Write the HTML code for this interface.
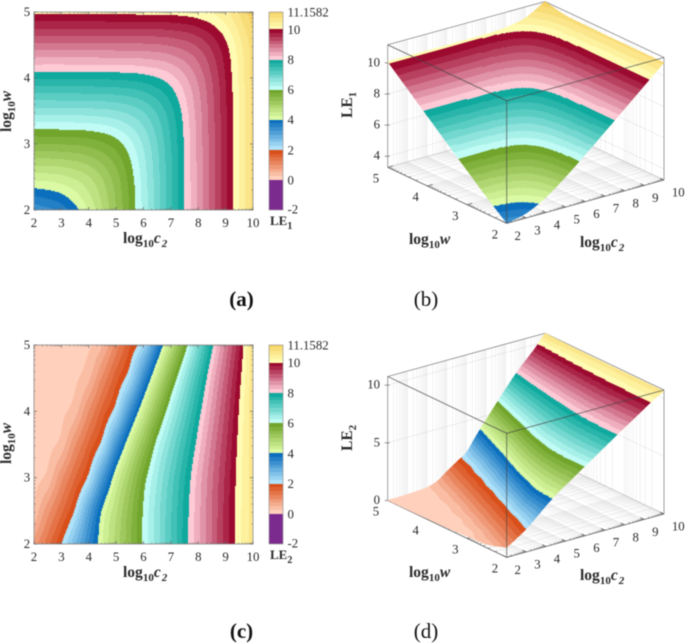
<!DOCTYPE html>
<html lang="en">
<head>
<meta charset="utf-8">
<title>LE1 and LE2 contour and surface plots</title>
<style>
html,body{margin:0;padding:0;background:#fff;width:685px;height:644px;overflow:hidden}
svg{display:block;filter:blur(.5px)}
text{font-family:"Liberation Serif",serif;fill:#2a2a2a}
.tick{font-size:12.8px}
.lab{font-size:15.5px;font-weight:bold}
.pan{font-size:21px;fill:#111}
</style>
</head>
<body>
<svg xmlns="http://www.w3.org/2000/svg" width="685" height="644" viewBox="0 0 685 644">
<rect width="685" height="644" fill="#fff"/>
<g id="panelA"></g>
<g id="panelB"></g>
<g id="panelC"></g>
<g id="panelD"></g>

<text class="lab" transform="translate(11,132) rotate(-90)">log<tspan dy="4" font-size="11">10</tspan><tspan dy="-4" font-style="italic">w</tspan></text>
<text class="lab" x="123" y="243">log<tspan dy="4" font-size="11">10</tspan><tspan dy="-4" font-style="italic">c</tspan><tspan dy="4" dx="1" font-size="11" font-style="italic">2</tspan></text>
<text x="270" y="225" font-size="13" font-weight="bold">LE<tspan dy="4" font-size="10">1</tspan></text>
<text class="pan" x="241.5" y="306" text-anchor="middle" font-weight="bold">(a)</text>

<text class="lab" transform="translate(352,118) rotate(-90)">LE<tspan dy="4" font-size="11">1</tspan></text>
<text class="lab" x="409" y="244">log<tspan dy="4" font-size="11">10</tspan><tspan dy="-4" font-style="italic">w</tspan></text>
<text class="lab" x="580" y="247">log<tspan dy="4" font-size="11">10</tspan><tspan dy="-4" font-style="italic">c</tspan><tspan dy="4" dx="1" font-size="11" font-style="italic">2</tspan></text>
<text class="pan" x="426" y="306" text-anchor="middle">(b)</text>

<text class="lab" transform="translate(11,464) rotate(-90)">log<tspan dy="4" font-size="11">10</tspan><tspan dy="-4" font-style="italic">w</tspan></text>
<text class="lab" x="123" y="577">log<tspan dy="4" font-size="11">10</tspan><tspan dy="-4" font-style="italic">c</tspan><tspan dy="4" dx="1" font-size="11" font-style="italic">2</tspan></text>
<text x="270" y="559" font-size="13" font-weight="bold">LE<tspan dy="4" font-size="10">2</tspan></text>
<text class="pan" x="241.5" y="638" text-anchor="middle" font-weight="bold">(c)</text>

<text class="lab" transform="translate(352,451) rotate(-90)">LE<tspan dy="4" font-size="11">2</tspan></text>
<text class="lab" x="409" y="577">log<tspan dy="4" font-size="11">10</tspan><tspan dy="-4" font-style="italic">w</tspan></text>
<text class="lab" x="580" y="580">log<tspan dy="4" font-size="11">10</tspan><tspan dy="-4" font-style="italic">c</tspan><tspan dy="4" dx="1" font-size="11" font-style="italic">2</tspan></text>
<text class="pan" x="426" y="638" text-anchor="middle">(d)</text>
</svg>

<script>
/* ---------- chart data ---------- */
const c2TickValues = [2, 3, 4, 5, 6, 7, 8, 9, 10];
const wTickValues = [2, 3, 4, 5];
const colorbarTickValues = [-2, 0, 2, 4, 6, 8, 10, 11.1582];
const colorbarTickLabels = ['-2', '0', '2', '4', '6', '8', '10', '11.1582'];
const le1ZTicks = [4, 6, 8, 10];
const le2ZTicks = [0, 5, 10];

const wSamples = [2, 2.5, 3, 3.5, 4, 4.5, 5];
const le1C2Samples = [2, 3, 4, 5, 6, 7, 8, 9, 10];
const le2C2Samples = [2, 2.5, 3, 3.5, 4, 4.5, 5, 5.5, 6, 6.5, 7, 7.5, 8, 8.5, 9, 9.5, 10];

const le1AtW20 = [3.30, 3.60, 4.27, 5.24, 6.32, 7.44, 8.57, 9.70, 10.83];
const le1AtW25 = [4.36, 4.44, 4.74, 5.40, 6.37, 7.45, 8.57, 9.70, 10.83];
const le1AtW30 = [5.49, 5.51, 5.59, 5.88, 6.54, 7.50, 8.58, 9.70, 10.83];
const le1AtW35 = [6.63, 6.64, 6.66, 6.74, 7.02, 7.67, 8.63, 9.71, 10.83];
const le1AtW40 = [7.78, 7.78, 7.79, 7.81, 7.89, 8.16, 8.81, 9.76, 10.85];
const le1AtW45 = [8.93, 8.93, 8.93, 8.94, 8.95, 9.03, 9.30, 9.94, 10.89];
const le1AtW50 = [10.08, 10.08, 10.08, 10.08, 10.09, 10.10, 10.18, 10.45, 11.16];

const le2AtW20 = [0.85, 1.40, 2.00, 2.75, 3.53, 4.25, 4.85, 5.45, 6.06, 6.65, 7.25, 7.85, 8.44, 9.02, 9.61, 10.18, 10.65];
const le2AtW25 = [0.30, 0.89, 1.44, 2.05, 3.05, 4.05, 4.70, 5.37, 6.03, 6.63, 7.22, 7.82, 8.41, 9.00, 9.60, 10.17, 10.65];
const le2AtW30 = [0.17, 0.33, 0.93, 1.50, 2.10, 3.20, 4.25, 5.05, 5.85, 6.48, 7.10, 7.72, 8.34, 8.95, 9.55, 10.15, 10.65];
const le2AtW35 = [0.09, 0.18, 0.35, 0.96, 1.55, 2.15, 3.30, 4.35, 5.25, 6.13, 6.80, 7.47, 8.13, 8.80, 9.45, 10.10, 10.65];
const le2AtW40 = [0.06, 0.09, 0.19, 0.40, 1.00, 1.60, 2.20, 3.33, 4.40, 5.40, 6.30, 7.08, 7.85, 8.58, 9.30, 10.03, 10.67];
const le2AtW45 = [0.03, 0.06, 0.10, 0.20, 0.45, 1.05, 1.65, 2.25, 3.40, 4.52, 5.58, 6.55, 7.45, 8.32, 9.10, 9.90, 10.70];
const le2AtW50 = [0.02, 0.03, 0.06, 0.11, 0.20, 0.48, 1.10, 1.70, 2.30, 3.50, 4.64, 5.77, 6.85, 7.91, 8.82, 9.70, 10.75];

const le1Rows = [le1AtW20, le1AtW25, le1AtW30, le1AtW35, le1AtW40, le1AtW45, le1AtW50];
const le2Rows = [le2AtW20, le2AtW25, le2AtW30, le2AtW35, le2AtW40, le2AtW45, le2AtW50];

/* ---------- colour map ---------- */
const ramp0 = ['#FFD0BC', '#D94F1A'];
const ramp2 = ['#B0E2FA', '#0B6FBD'];
const ramp4 = ['#DCFAA4', '#72A52C'];
const ramp6 = ['#C0FCF5', '#10A99E'];
const ramp8 = ['#FDCAD6', '#9C0A30'];
const ramp10 = ['#FFFBB2', '#F6D163'];
const ramps = [ramp0, ramp2, ramp4, ramp6, ramp8, ramp10];
const NEG_COLOR = '#7B2A8E';
const BAND_STEP = 0.25;

function hexRgb(h) { return [1, 3, 5].map(i => parseInt(h.substr(i, 2), 16)); }
function mixColor(a, b, t) {
  const p = hexRgb(a), q = hexRgb(b);
  return 'rgb(' + p.map((v, i) => Math.round(v + (q[i] - v) * t)).join(',') + ')';
}
function bandIndex(z) { return z < 0 ? -1 : Math.min(44, Math.floor(z / BAND_STEP)); }
function bandColor(i) {
  if (i < 0) return NEG_COLOR;
  if (i >= 40) return mixColor(ramp10[0], ramp10[1], (i - 40) / 4);
  const sec = Math.floor(i / 8);
  return mixColor(ramps[sec][0], ramps[sec][1], (i % 8) / 7);
}

/* ---------- interpolation of the read values ---------- */
function cell(rows, i, j) {
  const nj = rows.length, ni = rows[0].length;
  if (j < 0) return 2 * cell(rows, i, 0) - cell(rows, i, 1);
  if (j >= nj) return 2 * cell(rows, i, nj - 1) - cell(rows, i, nj - 2);
  if (i < 0) return 2 * rows[j][0] - rows[j][1];
  if (i >= ni) return 2 * rows[j][ni - 1] - rows[j][ni - 2];
  return rows[j][i];
}
function crom(a, b, c, d, t) {
  return 0.5 * (2 * b + (c - a) * t + (2 * a - 5 * b + 4 * c - d) * t * t + (3 * b - a - 3 * c + d) * t * t * t);
}
function sampleZ(rows, c2s, c2, w) {
  const u = (c2 - c2s[0]) / (c2s[1] - c2s[0]);
  const v = (w - wSamples[0]) / (wSamples[1] - wSamples[0]);
  const iu = Math.min(Math.floor(u), c2s.length - 2), iv = Math.min(Math.floor(v), wSamples.length - 2);
  const tu = u - iu, tv = v - iv, col = [];
  for (let k = -1; k <= 2; k++) {
    col.push(crom(cell(rows, iu - 1, iv + k), cell(rows, iu, iv + k), cell(rows, iu + 1, iv + k), cell(rows, iu + 2, iv + k), tu));
  }
  return crom(col[0], col[1], col[2], col[3], tv);
}

function minorPositions(lo, hi) {
  const out = [];
  for (let d = lo; d < hi; d++) for (let k = 2; k <= 9; k++) out.push(d + Math.log10(k));
  return out;
}

const SVGNS = 'http://www.w3.org/2000/svg';
function drawLine(parent, x1, y1, x2, y2, stroke, width, name) {
  const el = document.createElementNS(SVGNS, 'line');
  el.setAttribute('x1', x1.toFixed(2));
  el.setAttribute('y1', y1.toFixed(2));
  el.setAttribute('x2', x2.toFixed(2));
  el.setAttribute('y2', y2.toFixed(2));
  el.setAttribute('stroke', stroke);
  el.setAttribute('stroke-width', width);
  
  
  parent.appendChild(el);
  return el;
}
function drawLabel(parent, x, y, str, anchor, name) {
  const el = document.createElementNS(SVGNS, 'text');
  el.setAttribute('x', x.toFixed(1));
  el.setAttribute('y', y.toFixed(1));
  el.setAttribute('class', 'tick');
  el.setAttribute('text-anchor', anchor);
  
  
  el.textContent = str;
  parent.appendChild(el);
}

/* ---------- 2-D filled contour panel ---------- */
function drawContour(parent, rows, c2s, box) {
  const W = box.right - box.left, H = box.bottom - box.top;
  const xScale = v => box.left + (v - 2) / 8 * W;
  const yScale = v => box.bottom - (v - 2) / 3 * H;
  const invX = px => 2 + (px - box.left) / W * 8;
  const invY = py => 2 + (box.bottom - py) / H * 3;
  const bands = {};
  for (let py = box.top; py < box.bottom; py++) {
    let start = box.left, cur = null;
    for (let px = box.left; px <= box.right; px++) {
      const idx = px < box.right ? bandIndex(Math.max(0, sampleZ(rows, c2s, invX(px + 0.5), invY(py + 0.5)))) : null;
      if (idx !== cur) {
        if (cur !== null) bands[cur] = (bands[cur] || '') + 'M' + start + ' ' + py + 'h' + (px - start) + 'v1h' + (start - px) + 'z';
        cur = idx;
        start = px;
      }
    }
  }
  Object.keys(bands).forEach(k => {
    const path = document.createElementNS(SVGNS, 'path');
    path.setAttribute('d', bands[k]);
    path.setAttribute('fill', bandColor(+k));
    path.setAttribute('shape-rendering', 'crispEdges');
    
    
    parent.appendChild(path);
  });
  const frame = document.createElementNS(SVGNS, 'rect');
  frame.setAttribute('x', box.left);
  frame.setAttribute('y', box.top);
  frame.setAttribute('width', W);
  frame.setAttribute('height', H);
  frame.setAttribute('fill', 'none');
  frame.setAttribute('stroke', '#8a8a8a');
  frame.setAttribute('stroke-width', '0.8');
  
  
  parent.appendChild(frame);

  c2TickValues.forEach(v => {
    drawLine(parent, xScale(v), box.bottom, xScale(v), box.bottom - 3, '#666', 0.7, 'x-tick');
    drawLine(parent, xScale(v), box.top, xScale(v), box.top + 3, '#666', 0.7, 'x-tick-top');
    drawLabel(parent, xScale(v), box.bottom + 17, String(v), 'middle', 'x-tick-label');
  });
  wTickValues.forEach(v => {
    drawLine(parent, box.left, yScale(v), box.left + 3, yScale(v), '#666', 0.7, 'y-tick');
    drawLine(parent, box.right, yScale(v), box.right - 3, yScale(v), '#666', 0.7, 'y-tick-right');
    drawLabel(parent, 27, yScale(v) + 4, String(v), 'middle', 'y-tick-label');
  });
  minorPositions(2, 10).forEach(v => {
    drawLine(parent, xScale(v), box.bottom, xScale(v), box.bottom - 1.5, '#666', 0.5, 'x-minor-tick');
    drawLine(parent, xScale(v), box.top, xScale(v), box.top + 1.5, '#666', 0.5, 'x-minor-tick-top');
  });
  minorPositions(2, 5).forEach(v => {
    drawLine(parent, box.left, yScale(v), box.left + 1.5, yScale(v), '#666', 0.5, 'y-minor-tick');
    drawLine(parent, box.right, yScale(v), box.right - 1.5, yScale(v), '#666', 0.5, 'y-minor-tick-right');
  });

  /* colour bar */
  const cbL = 269, cbR = 283, zLo = -2, zHi = 11.1582;
  const cbY = z => box.bottom - (z - zLo) / (zHi - zLo) * H;
  const addBar = (z0, z1, fill) => {
    const r = document.createElementNS(SVGNS, 'rect');
    const y1 = Math.round(cbY(z1)), y0 = Math.round(cbY(z0));
    r.setAttribute('x', cbL);
    r.setAttribute('y', y1);
    r.setAttribute('width', cbR - cbL);
    r.setAttribute('height', y0 - y1);
    r.setAttribute('fill', fill);
    r.setAttribute('shape-rendering', 'crispEdges');
    
    
    parent.appendChild(r);
  };
  addBar(zLo, 0, NEG_COLOR);
  for (let i = 0; i < 45; i++) addBar(i * BAND_STEP, Math.min(zHi, (i + 1) * BAND_STEP), bandColor(i));
  const cbFrame = document.createElementNS(SVGNS, 'rect');
  cbFrame.setAttribute('x', cbL);
  cbFrame.setAttribute('y', box.top);
  cbFrame.setAttribute('width', cbR - cbL);
  cbFrame.setAttribute('height', H);
  cbFrame.setAttribute('fill', 'none');
  cbFrame.setAttribute('stroke', '#9a9a9a');
  cbFrame.setAttribute('stroke-width', '0.7');
  
  
  parent.appendChild(cbFrame);
  colorbarTickValues.forEach((v, i) => {
    drawLabel(parent, 287.5, cbY(v) + 4.5 - (v === -2 ? 1 : 0), colorbarTickLabels[i], 'start', 'colorbar-tick-label');
  });
}

/* ---------- 3-D surface panel ---------- */
function drawSurface(parent, rows, c2s, cfg) {
  const [Fx, Fy] = cfg.front, [Rx, Ry] = cfg.right, [Lx, Ly] = cfg.left;
  const project = (c2, w, z) => {
    const u = (c2 - 2) / 8, v = (w - 2) / 3, h = (z - cfg.zMin) / (cfg.zMax - cfg.zMin);
    return [Fx + u * (Rx - Fx) + v * (Lx - Fx), Fy + u * (Ry - Fy) + v * (Ly - Fy) - h * cfg.height];
  };
  const seg = (a, b, stroke, width, name) => drawLine(parent, a[0], a[1], b[0], b[1], stroke, width, name);
  const GRID = 'rgba(0,0,0,0.10)', zMin = cfg.zMin, zMax = cfg.zMax;

  /* wall and floor grid */
  const c2Grid = minorPositions(2, 10).concat(c2TickValues);
  const wGrid = minorPositions(2, 5).concat(wTickValues);
  c2Grid.forEach(v => {
    seg(project(v, 5, zMin), project(v, 5, zMax), GRID, 0.5, 'back-wall-gridline');
    seg(project(v, 2, zMin), project(v, 5, zMin), GRID, 0.5, 'floor-gridline');
  });
  wGrid.forEach(v => {
    seg(project(10, v, zMin), project(10, v, zMax), GRID, 0.5, 'side-wall-gridline');
    seg(project(2, v, zMin), project(10, v, zMin), GRID, 0.5, 'floor-gridline');
  });
  cfg.zTicks.forEach(v => {
    seg(project(2, 5, v), project(10, 5, v), GRID, 0.6, 'z-gridline');
    seg(project(10, 5, v), project(10, 2, v), GRID, 0.6, 'z-gridline');
  });

  /* back box edges */
  const EDGE = '#8a8a8a';
  seg(project(2, 5, zMin), project(10, 5, zMin), '#c4c4c4', 0.7, 'box-edge');
  seg(project(10, 5, zMin), project(10, 2, zMin), '#c4c4c4', 0.7, 'box-edge');
  seg(project(10, 5, zMin), project(10, 5, zMax), '#c4c4c4', 0.7, 'box-edge');
  seg(project(2, 5, zMin), project(2, 5, zMax), EDGE, 0.8, 'box-edge');
  seg(project(10, 2, zMin), project(10, 2, zMax), EDGE, 0.8, 'box-edge');
  seg(project(2, 5, zMax), project(10, 5, zMax), EDGE, 0.8, 'box-edge');
  seg(project(10, 5, zMax), project(10, 2, zMax), EDGE, 0.8, 'box-edge');
  seg(project(2, 5, zMin), project(2, 2, zMin), '#707070', 0.9, 'w-axis-line');
  seg(project(2, 2, zMin), project(10, 2, zMin), '#707070', 0.9, 'c2-axis-line');

  /* ticks */
  c2TickValues.forEach(v => {
    seg(project(v, 2, zMin), project(v, 2.1, zMin), '#555', 0.7, 'c2-tick');
    const p = project(v, 2, zMin);
    drawLabel(parent, p[0] + 11 + (v === 10 ? 3.3 : 0), p[1] + 16.5, String(v), 'middle', 'c2-tick-label');
  });
  wTickValues.forEach(v => {
    seg(project(2, v, zMin), project(2.27, v, zMin), '#555', 0.7, 'w-tick');
    const p = project(2, v, zMin);
    drawLabel(parent, p[0] - 11.7, p[1] + 15.2, String(v), 'middle', 'w-tick-label');
  });
  minorPositions(2, 10).forEach(v => seg(project(v, 2, zMin), project(v, 2.05, zMin), '#666', 0.5, 'c2-minor-tick'));
  minorPositions(2, 5).forEach(v => seg(project(2, v, zMin), project(2.13, v, zMin), '#666', 0.5, 'w-minor-tick'));
  cfg.zTicks.forEach(v => {
    const p = project(2, 5, v);
    drawLine(parent, p[0] - 3, p[1] , p[0] + 2, p[1], '#666', 0.7, 'z-tick');
    drawLabel(parent, 380, p[1] + 3.5, String(v), 'end', 'z-tick-label');
  });

  /* surface: quads grouped by colour band */
  const NU = 240, NV = 180;
  const zAt = [];
  for (let j = 0; j <= NV; j++) {
    const row = [];
    for (let i = 0; i <= NU; i++) {
      row.push(sampleZ(rows, c2s, 2 + 8 * i / NU, 2 + 3 * j / NV));
    }
    zAt.push(row);
  }
  const bands = {};
  for (let j = 0; j < NV; j++) {
    for (let i = 0; i < NU; i++) {
      const c2a = 2 + 8 * i / NU, c2b = 2 + 8 * (i + 1) / NU, wa = 2 + 3 * j / NV, wb = 2 + 3 * (j + 1) / NV;
      const mid = (zAt[j][i] + zAt[j][i + 1] + zAt[j + 1][i] + zAt[j + 1][i + 1]) / 4;
      const k = bandIndex(Math.max(0, mid));
      const a = project(c2a, wa, Math.max(zMin, zAt[j][i])), b = project(c2b, wa, Math.max(zMin, zAt[j][i + 1]));
      const c = project(c2b, wb, Math.max(zMin, zAt[j + 1][i + 1])), d = project(c2a, wb, Math.max(zMin, zAt[j + 1][i]));
      (bands[k] = bands[k] || []).push('M' + a[0].toFixed(1) + ' ' + a[1].toFixed(1) + 'L' + b[0].toFixed(1) + ' ' + b[1].toFixed(1) +
        'L' + c[0].toFixed(1) + ' ' + c[1].toFixed(1) + 'L' + d[0].toFixed(1) + ' ' + d[1].toFixed(1) + 'z');
    }
  }
  Object.keys(bands).forEach(k => {
    const path = document.createElementNS(SVGNS, 'path');
    path.setAttribute('d', bands[k].join(''));
    path.setAttribute('fill', bandColor(+k));
    path.setAttribute('stroke', bandColor(+k));
    path.setAttribute('stroke-width', '0.4');
    
    
    parent.appendChild(path);
  });

  /* front box edges drawn over the surface */
  const FRONT = 'rgba(70,70,70,0.75)';
  seg(project(2, 2, zMin), project(2, 2, zMax), FRONT, 0.9, 'box-front-edge');
  seg(project(2, 2, zMax), project(2, 5, zMax), FRONT, 0.9, 'box-front-edge');
  seg(project(2, 2, zMax), project(10, 2, zMax), FRONT, 0.9, 'box-front-edge');
}

drawContour(document.getElementById('panelA'), le1Rows, le1C2Samples, { left: 34, right: 253, top: 12, bottom: 210 });
drawContour(document.getElementById('panelC'), le2Rows, le2C2Samples, { left: 34, right: 253, top: 345, bottom: 544 });
drawSurface(document.getElementById('panelB'), le1Rows, le1C2Samples, {
  front: [506.7, 223.3], right: [664, 180], left: [387.7, 167.3], height: 122.5,
  zMin: 3.29, zMax: 11.1582, zTicks: le1ZTicks
});
drawSurface(document.getElementById('panelD'), le2Rows, le2C2Samples, {
  front: [506.7, 557.3], right: [664, 514], left: [387.7, 500.5], height: 124,
  zMin: 0, zMax: 10.75, zTicks: le2ZTicks
});
</script>
</body>
</html>
